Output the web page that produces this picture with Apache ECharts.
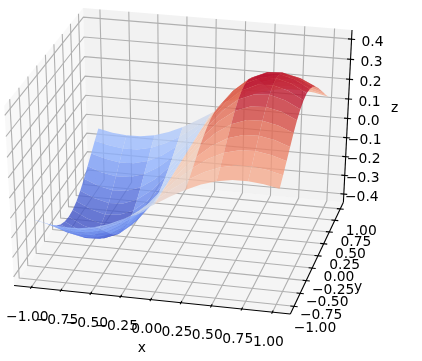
<!DOCTYPE html>
<html>
<head>
<meta charset="utf-8">
<style>
  html, body { margin: 0; padding: 0; background: #fff; }
  #chart { width: 422px; height: 361px; }
</style>
<script src="https://cdn.jsdelivr.net/npm/echarts@6/dist/echarts.min.js"></script>
</head>
<body>
<div id="chart"></div>
<script>
// surface heights, one list per x column, y running -1 .. 1
const xValues = [-1, -0.875, -0.75, -0.625, -0.5, -0.375, -0.25, -0.125, 0, 0.125, 0.25, 0.375, 0.5, 0.625, 0.75, 0.875, 1];
const yValues = [-1, -0.875, -0.75, -0.625, -0.5, -0.375, -0.25, -0.125, 0, 0.125, 0.25, 0.375, 0.5, 0.625, 0.75, 0.875, 1];
const zXm1000 = [-0.135, -0.171, -0.21, -0.249, -0.287, -0.32, -0.346, -0.362, -0.368, -0.362, -0.346, -0.32, -0.287, -0.249, -0.21, -0.171, -0.135];
const zXm0875 = [-0.15, -0.189, -0.232, -0.275, -0.317, -0.354, -0.382, -0.401, -0.407, -0.401, -0.382, -0.354, -0.317, -0.275, -0.232, -0.189, -0.15];
const zXm0750 = [-0.157, -0.199, -0.244, -0.289, -0.333, -0.371, -0.402, -0.421, -0.427, -0.421, -0.402, -0.371, -0.333, -0.289, -0.244, -0.199, -0.157];
const zXm0625 = [-0.156, -0.197, -0.241, -0.286, -0.329, -0.367, -0.397, -0.416, -0.423, -0.416, -0.397, -0.367, -0.329, -0.286, -0.241, -0.197, -0.156];
const zXm0500 = [-0.143, -0.181, -0.222, -0.263, -0.303, -0.338, -0.366, -0.383, -0.389, -0.383, -0.366, -0.338, -0.303, -0.263, -0.222, -0.181, -0.143];
const zXm0375 = [-0.12, -0.151, -0.186, -0.22, -0.254, -0.283, -0.306, -0.321, -0.326, -0.321, -0.306, -0.283, -0.254, -0.22, -0.186, -0.151, -0.12];
const zXm0250 = [-0.086, -0.109, -0.134, -0.159, -0.183, -0.204, -0.221, -0.231, -0.235, -0.231, -0.221, -0.204, -0.183, -0.159, -0.134, -0.109, -0.086];
const zXm0125 = [-0.045, -0.057, -0.07, -0.083, -0.096, -0.107, -0.116, -0.121, -0.123, -0.121, -0.116, -0.107, -0.096, -0.083, -0.07, -0.057, -0.045];
const zX0000 = [0, 0, 0, 0, 0, 0, 0, 0, 0, 0, 0, 0, 0, 0, 0, 0, 0];
const zX0125 = [0.045, 0.057, 0.07, 0.083, 0.096, 0.107, 0.116, 0.121, 0.123, 0.121, 0.116, 0.107, 0.096, 0.083, 0.07, 0.057, 0.045];
const zX0250 = [0.086, 0.109, 0.134, 0.159, 0.183, 0.204, 0.221, 0.231, 0.235, 0.231, 0.221, 0.204, 0.183, 0.159, 0.134, 0.109, 0.086];
const zX0375 = [0.12, 0.151, 0.186, 0.22, 0.254, 0.283, 0.306, 0.321, 0.326, 0.321, 0.306, 0.283, 0.254, 0.22, 0.186, 0.151, 0.12];
const zX0500 = [0.143, 0.181, 0.222, 0.263, 0.303, 0.338, 0.366, 0.383, 0.389, 0.383, 0.366, 0.338, 0.303, 0.263, 0.222, 0.181, 0.143];
const zX0625 = [0.156, 0.197, 0.241, 0.286, 0.329, 0.367, 0.397, 0.416, 0.423, 0.416, 0.397, 0.367, 0.329, 0.286, 0.241, 0.197, 0.156];
const zX0750 = [0.157, 0.199, 0.244, 0.289, 0.333, 0.371, 0.402, 0.421, 0.427, 0.421, 0.402, 0.371, 0.333, 0.289, 0.244, 0.199, 0.157];
const zX0875 = [0.15, 0.189, 0.232, 0.275, 0.317, 0.354, 0.382, 0.401, 0.407, 0.401, 0.382, 0.354, 0.317, 0.275, 0.232, 0.189, 0.15];
const zX1000 = [0.135, 0.171, 0.21, 0.249, 0.287, 0.32, 0.346, 0.362, 0.368, 0.362, 0.346, 0.32, 0.287, 0.249, 0.21, 0.171, 0.135];
const zColumns = [zXm1000, zXm0875, zXm0750, zXm0625, zXm0500, zXm0375, zXm0250, zXm0125, zX0000, zX0125, zX0250, zX0375, zX0500, zX0625, zX0750, zX0875, zX1000];

const xTicks = [-1, -0.75, -0.5, -0.25, 0, 0.25, 0.5, 0.75, 1];
const xTickLabels = ["−1.00", "−0.75", "−0.50", "−0.25", "0.00", "0.25", "0.50", "0.75", "1.00"];
const yTicks = [-1, -0.75, -0.5, -0.25, 0, 0.25, 0.5, 0.75, 1];
const yTickLabels = ["−1.00", "−0.75", "−0.50", "−0.25", "0.00", "0.25", "0.50", "0.75", "1.00"];
const zTicks = [-0.4, -0.3, -0.2, -0.1, 0, 0.1, 0.2, 0.3, 0.4];
const zTickLabels = ["−0.4", "−0.3", "−0.2", "−0.1", "0.0", "0.1", "0.2", "0.3", "0.4"];

// coolwarm
const cmapStops = ["#3b4cc0", "#6282ea", "#8db0fe", "#b9d0f9", "#dddcdc", "#f5c4ac", "#f49a7b", "#dd604a", "#b40426"];

const ELEV = (31.5 * Math.PI) / 180;
const AZIM = (-76.5 * Math.PI) / 180;
const DIST = 10;
const SCALE_X = 2690;
const SCALE_Y = 1980;
const CX = 184;
const CY = 157;
const W = 422;
const H = 361;

const XY_LIM = 1.1; // unit cube spans these limits
const Z_LIM = 0.4274;
const XY_PANE = 1.146;
const Z_PANE = 0.445;
const TICK = 0.03;
const CELL_STEP = 2; // a coloured cell spans two x steps, its edge bends through the middle one
const FONT = '13.89px "DejaVu Sans"';

const right = [-Math.sin(AZIM), Math.cos(AZIM), 0];
const up = [-Math.sin(ELEV) * Math.cos(AZIM), -Math.sin(ELEV) * Math.sin(AZIM), Math.cos(ELEV)];
const toEye = [Math.cos(ELEV) * Math.cos(AZIM), Math.cos(ELEV) * Math.sin(AZIM), Math.sin(ELEV)];

const dot = (a, b) => a[0] * b[0] + a[1] * b[1] + a[2] * b[2];

// returns [plotX, plotY, depth towards the eye]
const project = (x, y, z) => {
  const p = [x / XY_LIM / 2, y / XY_LIM / 2, z / Z_LIM / 2];
  const d = dot(p, toEye);
  return [dot(p, right) / (DIST - d), dot(p, up) / (DIST - d), d];
};

const surfacePoint = (i, j) => [xValues[i], yValues[j], zColumns[i][j]];

// surface cells, far ones first
const cells = [];
for (let i = 0; i < xValues.length - 1; i += CELL_STEP) {
  for (let j = 0; j < yValues.length - 1; j++) {
    const corners = [
      surfacePoint(i, j),
      surfacePoint(i + 1, j),
      surfacePoint(i + 2, j),
      surfacePoint(i + 2, j + 1),
      surfacePoint(i + 1, j + 1),
      surfacePoint(i, j + 1),
    ];
    const avg = corners.reduce((s, c) => s + c[2], 0) / corners.length;
    const depth = corners.reduce((s, c) => s + project(c[0], c[1], c[2])[2], 0) / corners.length;
    cells.push({ corners, avg, depth });
  }
}
cells.sort((a, b) => a.depth - b.depth);
const avgMax = Math.max(...cells.map((c) => Math.abs(c.avg)));
const cellColor = (avg) => echarts.color.lerp((avg + avgMax) / (2 * avgMax), cmapStops);

const P = XY_PANE;
const Q = Z_PANE;
const panes = [
  { pts: [[-P, -P, -Q], [-P, P, -Q], [-P, P, Q], [-P, -P, Q]], color: "rgba(242,242,242,0.5)" },
  { pts: [[-P, P, -Q], [P, P, -Q], [P, P, Q], [-P, P, Q]], color: "rgba(230,230,230,0.5)" },
  { pts: [[-P, -P, -Q], [P, -P, -Q], [P, P, -Q], [-P, P, -Q]], color: "rgba(236,236,236,0.5)" },
];

const gridLines = [
  ...xTicks.map((t) => [[t, -P, -Q], [t, P, -Q], [t, P, Q]]),
  ...yTicks.map((t) => [[P, t, -Q], [-P, t, -Q], [-P, t, Q]]),
  ...zTicks.map((t) => [[-P, -P, t], [-P, P, t], [P, P, t]]),
];

const axisLines = [
  [[-P, -P, -Q], [P, -P, -Q]],
  [[P, -P, -Q], [P, P, -Q]],
  [[P, P, -Q], [P, P, Q]],
  ...xTicks.map((t) => [[t, -P - TICK, -Q], [t, -P + TICK, -Q]]),
  ...yTicks.map((t) => [[P - TICK, t, -Q], [P + TICK, t, -Q]]),
  ...zTicks.map((t) => [[P - TICK, P, t], [P + TICK, P, t]]),
];

const labels = [
  ...xTicks.map((t, i) => ({ at: [t, -P, -Q], text: xTickLabels[i], dx: -4, dy: 30 })),
  ...yTicks.map((t, i) => ({ at: [P, t, -Q], text: yTickLabels[i], dx: 21, dy: 22 })),
  ...zTicks.map((t, i) => ({ at: [P, P, t], text: zTickLabels[i], dx: t < 0 ? 18 : 21, dy: 3 })),
  { at: [0, -P, -Q], text: "x", dx: -9, dy: 49 },
  { at: [P, 0, -Q], text: "y", dx: 40, dy: 32 },
  { at: [P, P, 0], text: "z", dx: 47, dy: -10 },
];

const toCoord = (api, c) => {
  const p = project(c[0], c[1], c[2]);
  return api.coord([p[0], p[1]]);
};

const polygonSeries = (items, styleOf) => ({
  type: "custom",
  coordinateSystem: "cartesian2d",
  clip: false,
  silent: true,
  data: items.map((_, i) => [i]),
  renderItem: (params, api) => {
    const item = items[api.value(0)];
    return {
      type: "polygon",
      shape: { points: (item.pts || item.corners).map((c) => toCoord(api, c)) },
      style: styleOf(item),
    };
  },
});

const lineSeries = (items, color, width) => ({
  type: "custom",
  coordinateSystem: "cartesian2d",
  clip: false,
  silent: true,
  data: items.map((_, i) => [i]),
  renderItem: (params, api) => ({
    type: "polyline",
    shape: { points: items[api.value(0)].map((c) => toCoord(api, c)) },
    style: { fill: "none", stroke: color, lineWidth: width },
  }),
});

const labelSeries = {
  type: "custom",
  coordinateSystem: "cartesian2d",
  clip: false,
  silent: true,
  data: labels.map((_, i) => [i]),
  renderItem: (params, api) => {
    const item = labels[api.value(0)];
    const pos = toCoord(api, item.at);
    return {
      type: "text",
      x: pos[0] + item.dx,
      y: pos[1] + item.dy,
      style: { text: item.text, font: FONT, fill: "#000", textAlign: "center", textVerticalAlign: "middle" },
    };
  },
};

const chart = echarts.init(document.getElementById("chart"));
chart.setOption({
  animation: false,
  backgroundColor: "#fff",
  grid: { left: 0, right: 0, top: 0, bottom: 0 },
  xAxis: { type: "value", show: false, min: -CX / SCALE_X, max: (W - CX) / SCALE_X },
  yAxis: { type: "value", show: false, min: (CY - H) / SCALE_Y, max: CY / SCALE_Y },
  series: [
    polygonSeries(panes, (p) => ({ fill: p.color })),
    lineSeries(gridLines, "#b0b0b0", 1.1),
    lineSeries(axisLines, "#000", 1.1),
    labelSeries,
    polygonSeries(cells, (c) => ({ fill: cellColor(c.avg), opacity: 0.8 })),
  ],
});
</script>
</body>
</html>
